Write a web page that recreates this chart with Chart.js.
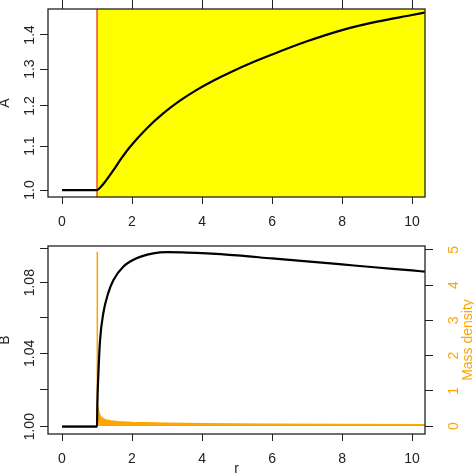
<!DOCTYPE html>
<html>
<head>
<meta charset="utf-8">
<script src="https://cdn.jsdelivr.net/npm/chart.js@4.4.0/dist/chart.umd.min.js"></script>
<style>
html,body{margin:0;padding:0;background:#fff;}
.panel{position:absolute;left:0;width:474px;height:237px;}
#p1{top:0}
#p2{top:237px}
</style>
</head>
<body>
<div class="panel" id="p1"><canvas id="cA"></canvas></div>
<div class="panel" id="p2"><canvas id="cB"></canvas></div>
<script>
/* data */
const X_MIN = -0.4, X_MAX = 10.37;
const xTicks = [0, 2, 4, 6, 8, 10];

// panel A (log y)
const rA = [0, 1, 1.1, 1.25, 1.47, 1.7, 1.94, 2.42, 2.9, 3.37, 3.85, 4.32, 4.8, 5.5, 6, 7, 8, 9, 10, 10.37];
const valA = [1.000, 1.000, 1.006, 1.020, 1.044, 1.0715, 1.098, 1.143, 1.1814, 1.2138, 1.2426, 1.2675, 1.2905, 1.3213, 1.3418, 1.3808, 1.4148, 1.4408, 1.4618, 1.4698];
const aTicks = [1.0, 1.1, 1.2, 1.3, 1.4];
const aTickLabels = ['1.0', '1.1', '1.2', '1.3', '1.4'];
const A_MIN = 0.985, A_MAX = 1.481;
const shadeR = [1, 10.37];          // yellow region
const markR = [1, 1];               // red line

// panel B (log y) + mass density (right axis)
const rB = [0, 1, 1.01, 1.04, 1.086, 1.18, 1.32, 1.47, 1.75, 2.13, 2.61, 3.0, 3.45, 4, 5, 6, 7, 8, 9, 10, 10.37];
const valB = [1.000, 1.000, 1.012, 1.029, 1.047, 1.0625, 1.074, 1.0816, 1.0893, 1.0942, 1.0971, 1.0978, 1.0977, 1.0972, 1.0959, 1.0941, 1.0924, 1.0906, 1.0888, 1.0871, 1.0864];
const bTicks = [1.00, 1.02, 1.04, 1.06, 1.08, 1.10];
const bTickLabels = ['1.00', '', '1.04', '', '1.08', ''];
const B_MIN = 0.9961, B_MAX = 1.1014;

const rM = [0, 1, 1, 1.004, 1.01, 1.02, 1.04, 1.07, 1.1, 1.15, 1.25, 1.4, 1.6, 2, 3, 4, 6, 8, 10.37];
const massDens = [0, 0, 4.95, 1.6, 0.9, 0.6, 0.45, 0.33, 0.27, 0.22, 0.17, 0.14, 0.12, 0.10, 0.08, 0.065, 0.05, 0.04, 0.035];
const mTicks = [0, 1, 2, 3, 4, 5];
const M_MIN = -0.227, M_MAX = 5.11;

/* style */
const FONT = '14px "Liberation Sans", Arial, Helvetica, sans-serif';
const INK = '#222';
const ORANGE = '#FFA500';

function pts(xs, ys){ return xs.map((x,i)=>({x:x, y:ys[i]})); }

function rotText(ctx, txt, x, y, color){
  ctx.save();
  ctx.translate(x, y);
  ctx.rotate(-Math.PI/2);
  ctx.fillStyle = color;
  ctx.font = FONT;
  ctx.textAlign = 'center';
  ctx.textBaseline = 'alphabetic';
  ctx.fillText(txt, 0, 0);
  ctx.restore();
}

function xAxis(pos, h, tl){
  return {
    type:'linear', position:pos, min:X_MIN, max:X_MAX,
    afterBuildTicks: s => { s.ticks = xTicks.map(v=>({value:v})); },
    ticks:{display:false, autoSkip:false},
    grid:{drawOnChartArea:false, drawTicks:true, tickLength:tl, color:INK, lineWidth:1},
    border:{display:false},
    afterFit: s => { s.height = h; }
  };
}
function yAxis(type, pos, min, max, ticks, w){
  return {
    type:type, position:pos, min:min, max:max,
    afterBuildTicks: s => { s.ticks = ticks.map(v=>({value:v})); },
    ticks:{display:false, autoSkip:false},
    grid:{drawOnChartArea:false, drawTicks:true, tickLength:8, color:INK, lineWidth:1},
    border:{display:false},
    afterFit: s => { s.width = w; }
  };
}

/* frame + texts */
const framePlugin = {
  id:'frame',
  afterDraw(chart, args, o){
    const {ctx, chartArea:a} = chart;
    ctx.save();
    ctx.strokeStyle = INK; ctx.lineWidth = 1.3;
    ctx.strokeRect(a.left, a.top, a.right-a.left, a.bottom-a.top);
    ctx.font = FONT; ctx.fillStyle = INK; ctx.textAlign = 'center'; ctx.textBaseline = 'alphabetic';
    const x = chart.scales.x;
    xTicks.forEach(v => ctx.fillText(String(v), x.getPixelForValue(v), a.bottom + 28.5));
    ctx.restore();

    const y = chart.scales.y;
    o.yTicks.forEach((v,i) => { if(o.yLabels[i]) rotText(ctx, o.yLabels[i], 34, y.getPixelForValue(v), INK); });
    rotText(ctx, o.yTitle, 9, (a.top+a.bottom)/2, INK);

    if(chart.scales.y2){
      const y2 = chart.scales.y2;
      mTicks.forEach(v => rotText(ctx, String(v), 457.5, y2.getPixelForValue(v), ORANGE));
      rotText(ctx, 'Mass density', 472, (a.top+a.bottom)/2, ORANGE);
      ctx.save();
      ctx.font = FONT; ctx.fillStyle = INK; ctx.textAlign = 'center'; ctx.textBaseline = 'alphabetic';
      ctx.fillText('r', (a.left+a.right)/2, 235.5);
      ctx.restore();
    }
  }
};

const common = {
  responsive:true, maintainAspectRatio:false, animation:false, events:[],
  elements:{point:{radius:0}}
};

/* panel A */
new Chart(document.getElementById('cA'), {
  type:'line',
  data:{datasets:[
    {data:pts(rA, valA), borderColor:'#000', borderWidth:2.2, fill:false, cubicInterpolationMode:'monotone', xAxisID:'x', yAxisID:'y'},
    {data:pts(markR, [A_MIN, A_MAX]), borderColor:'#f02000', borderWidth:1.2, fill:false, xAxisID:'x', yAxisID:'y'},
    {data:pts(shadeR, [A_MAX, A_MAX]), borderWidth:0, borderColor:'rgba(0,0,0,0)', backgroundColor:'#ffff00', fill:'start', xAxisID:'x', yAxisID:'y'}
  ]},
  options:Object.assign({}, common, {
    layout:{padding:{left:0, right:49, top:0, bottom:0}},
    scales:{
      x: xAxis('bottom', 40, 7),
      x2: xAxis('top', 9, 9),
      y: yAxis('logarithmic', 'left', A_MIN, A_MAX, aTicks, 48)
    },
    plugins:{legend:{display:false}, tooltip:{enabled:false},
      frame:{yTicks:aTicks, yLabels:aTickLabels, yTitle:'A'}}
  }),
  plugins:[framePlugin]
});

/* panel B */
new Chart(document.getElementById('cB'), {
  type:'line',
  data:{datasets:[
    {data:pts(rB, valB), borderColor:'#000', borderWidth:2.2, fill:false, cubicInterpolationMode:'monotone', xAxisID:'x', yAxisID:'y'},
    {data:pts(rM, massDens), borderColor:ORANGE, borderWidth:1.5, backgroundColor:ORANGE, fill:'origin', tension:0, xAxisID:'x', yAxisID:'y2'}
  ]},
  options:Object.assign({}, common, {
    layout:{padding:{left:0, right:0, top:9, bottom:0}},
    scales:{
      x: xAxis('bottom', 40, 7),
      y: yAxis('logarithmic', 'left', B_MIN, B_MAX, bTicks, 48),
      y2: yAxis('linear', 'right', M_MIN, M_MAX, mTicks, 49)
    },
    plugins:{legend:{display:false}, tooltip:{enabled:false},
      frame:{yTicks:bTicks, yLabels:bTickLabels, yTitle:'B'}}
  }),
  plugins:[framePlugin]
});
</script>
</body>
</html>
